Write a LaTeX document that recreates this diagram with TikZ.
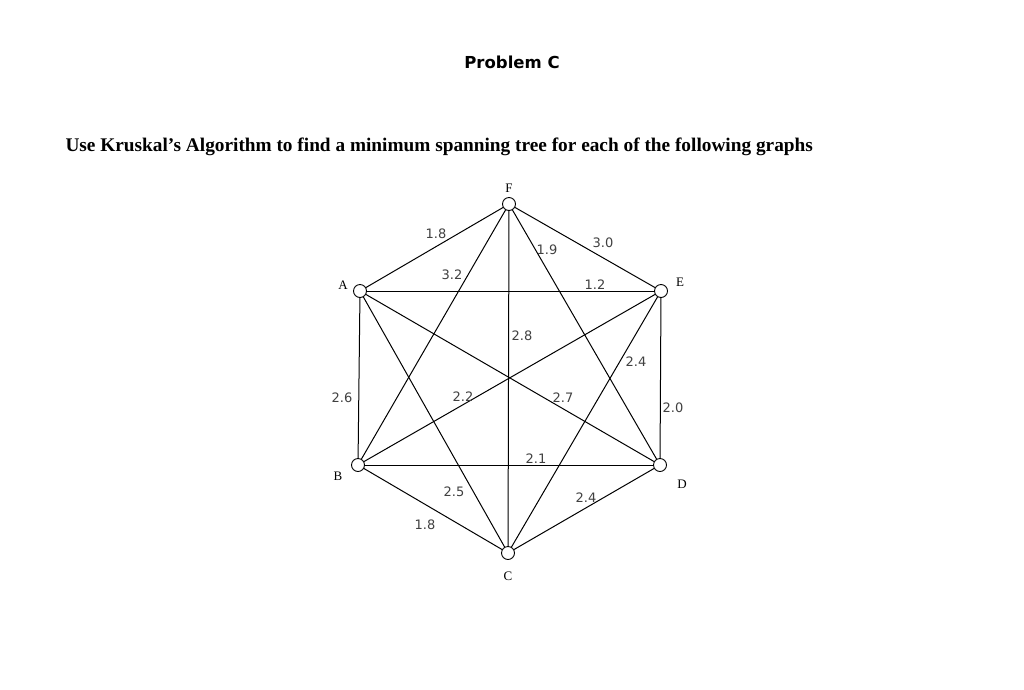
\documentclass[tikz,border=0pt]{standalone}
\usepackage{fontspec}
\setmainfont{Liberation Serif}
\newfontfamily\dejavu{DejaVu Sans}
\begin{document}
\begin{tikzpicture}[x=1pt,y=-1pt,
  vtx/.style={circle,draw,fill=white,inner sep=0pt,minimum size=13pt,line width=0.9pt},
  wl/.style={font=\dejavu\fontsize{13}{13}\selectfont,inner sep=1pt,text=black!75},
  vl/.style={font=\fontsize{13}{13}\selectfont}]
\useasboundingbox (0,0) rectangle (1024,689);
\node[font=\dejavu\bfseries\fontsize{16.5}{16.5}\selectfont] (title) at (512,62) {Problem C};
\node[anchor=west,font=\bfseries\fontsize{19.3}{19.3}\selectfont] (sub) at (62,147) {Use Kruskal’s Algorithm to find a minimum spanning tree for each of the following graphs};
\coordinate (F) at (509,204);
\coordinate (A) at (360,291);
\coordinate (E) at (661,291);
\coordinate (B) at (358,465);
\coordinate (D) at (660,465);
\coordinate (C) at (508,553);
\foreach \u/\v in {F/A,F/E,F/B,F/D,F/C,A/E,A/B,A/D,A/C,E/B,E/D,E/C,B/D,B/C,D/C}
  \draw[line width=1pt] (\u) -- (\v);
\foreach \n in {F,A,E,B,D,C} \node[vtx] (v\n) at (\n) {};
\node[vl] (lF) at (509,188) {F};
\node[vl] (lA) at (343,285) {A};
\node[vl] (lE) at (680,282) {E};
\node[vl] (lB) at (338,476) {B};
\node[vl] (lD) at (682,484) {D};
\node[vl] (lC) at (508,576) {C};
\node[wl] (w1) at (436,234) {1.8};
\node[wl] (w2) at (452,275) {3.2};
\node[wl] (w3) at (547,250) {1.9};
\node[wl] (w4) at (603,243) {3.0};
\node[wl] (w5) at (595,285) {1.2};
\node[wl] (w6) at (522,336) {2.8};
\node[wl] (w7) at (636,362) {2.4};
\node[wl] (w8) at (342,398) {2.6};
\node[wl] (w9) at (463,397) {2.2};
\node[wl] (w10) at (563,398) {2.7};
\node[wl] (w11) at (673,408) {2.0};
\node[wl] (w12) at (536,459) {2.1};
\node[wl] (w13) at (454,492) {2.5};
\node[wl] (w14) at (586,498) {2.4};
\node[wl] (w15) at (425,525) {1.8};
\end{tikzpicture}
\end{document}
